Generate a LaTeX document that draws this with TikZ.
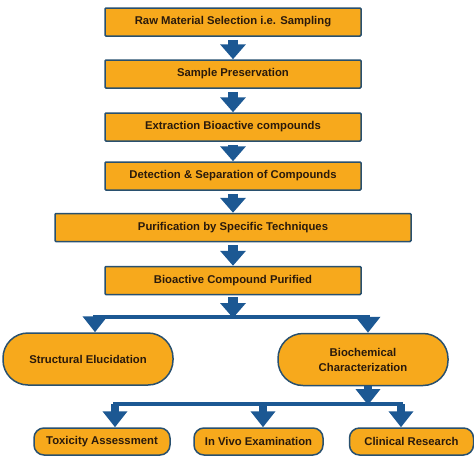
\documentclass[tikz,border=0pt]{standalone}
\usepackage{fontspec}
\setmainfont{Liberation Sans}
\usetikzlibrary{arrows.meta}
\definecolor{boxfill}{HTML}{F7A91C}
\definecolor{boxline}{HTML}{28506F}
\definecolor{arrowblue}{HTML}{1C5893}
\definecolor{txt}{HTML}{2A1A0C}
\begin{document}
\begin{tikzpicture}[x=1pt,y=-1pt,
  stepbox/.style={draw=boxline,line width=1.5pt,fill=boxfill,rectangle,rounded corners=1pt,
    text=txt,font=\fontsize{11.3}{15}\selectfont\bfseries,align=center,inner sep=0pt,
    minimum height=28pt},
  pillbox/.style={stepbox,rounded corners=25pt,minimum height=52pt},
  smallbox/.style={stepbox,rounded corners=10pt,minimum height=27pt},
  barrow/.style={draw=arrowblue,line width=10pt,-{Triangle[width=25pt,length=15pt]},arrowblue},
  sarrow/.style={draw=arrowblue,line width=8pt,-{Triangle[width=24pt,length=16pt]},arrowblue},
  hline/.style={draw=arrowblue,line width=4.5pt},
]
\useasboundingbox (0,0) rectangle (474,474);
\fill[white] (0,0) rectangle (474,474);

\node[stepbox,minimum width=256pt] (b1) at (233,22) {Raw Material Selection i.e. Sampling};
\node[stepbox,minimum width=256pt] (b2) at (233,74) {Sample Preservation};
\node[stepbox,minimum width=256pt] (b3) at (233,127) {Extraction Bioactive compounds};
\node[stepbox,minimum width=256pt] (b4) at (233,176) {Detection \& Separation of Compounds};
\node[stepbox,minimum width=356pt] (b5) at (233,227.5) {Purification by Specific Techniques};
\node[stepbox,minimum width=256pt] (b6) at (233,280.5) {Bioactive Compound Purified};

\node[pillbox,minimum width=170pt] (se) at (88,359) {Structural Elucidation};
\node[pillbox,minimum width=170pt] (bc) at (363,359.5) {Biochemical\\Characterization};

\node[smallbox,minimum width=136pt] (tox) at (102,441.5) {Toxicity Assessment};
\node[smallbox,minimum width=129pt] (viv) at (258.5,441.5) {In Vivo Examination};
\node[smallbox,minimum width=124pt] (cli) at (411.5,441.5) {Clinical Research};

\draw[barrow,shorten <=3pt] (b1.south) -- (b2.north);
\draw[barrow,shorten <=3pt] (b2.south) -- (b3.north);
\draw[barrow,shorten <=3pt] (b3.south) -- (b4.north);
\draw[barrow,shorten <=3pt] (b4.south) -- (b5.north);
\draw[barrow,shorten <=3pt] (b5.south) -- (b6.north);

% first branch
\coordinate (j1) at (233,318);
\coordinate (l1) at (95,317);
\coordinate (r1) at (368,317);
\draw[hline] ([xshift=-2pt]l1) -- ([xshift=2pt]r1);
\draw[barrow,shorten <=2pt] (b6.south) -- (j1);
\draw[sarrow] (l1) -- (l1 |- se.north);
\draw[sarrow] (r1) -- (r1 |- bc.north);

% second branch
\coordinate (j2) at (368,405);
\coordinate (l2) at (115,404);
\coordinate (m2) at (263,404);
\coordinate (r2) at (401,404);
\draw[hline] ([xshift=-2pt]l2) -- ([xshift=2pt]r2);
\draw[sarrow] (bc.south -| j2) -- (j2);
\draw[sarrow] (l2) -- (l2 |- tox.north);
\draw[sarrow] (m2) -- (m2 |- viv.north);
\draw[sarrow] (r2) -- (r2 |- cli.north);
\end{tikzpicture}
\end{document}
